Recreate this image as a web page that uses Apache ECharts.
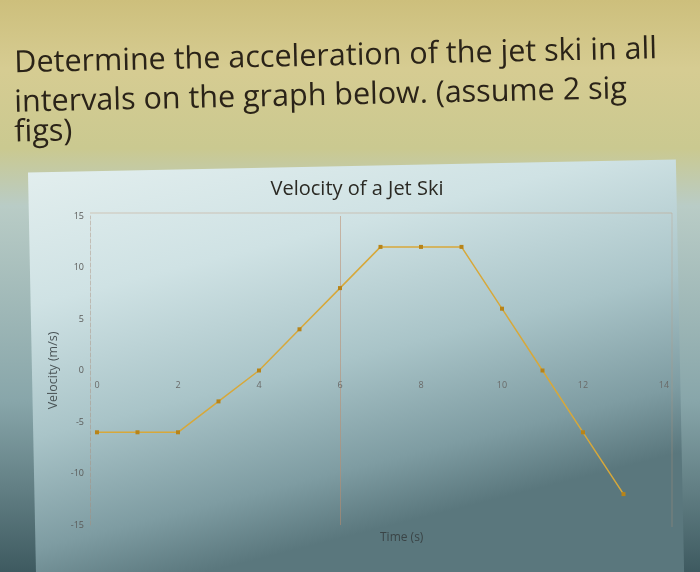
<!DOCTYPE html>
<html>
<head>
<meta charset="utf-8">
<style>
html,body{margin:0;padding:0;width:700px;height:572px;overflow:hidden;background:#c9c184;}
#c{width:700px;height:572px;}
</style>
<script src="https://cdn.jsdelivr.net/npm/echarts@6/dist/echarts.min.js"></script>
</head>
<body>
<div id="c"></div>
<script>
// Data
var timeSeconds = [0, 1, 2, 3, 4, 5, 6, 7, 8, 9, 10, 11, 12, 13];
var velocityMs = [-6, -6, -6, -3, 0, 4, 8, 12, 12, 12, 6, 0, -6, -12];
var questionLines = [
  'Determine the acceleration of the jet ski in all',
  'intervals on the graph below. (assume 2 sig',
  'figs)'
];
var chartTitle = 'Velocity of a Jet Ski';
var xAxisName = 'Time (s)';
var yAxisName = 'Velocity (m/s)';

var points = timeSeconds.map(function (t, i) { return [t, velocityMs[i]]; });

var chart = echarts.init(document.getElementById('c'), null, {renderer: 'canvas'});

var gridL = 97, gridT = 216, gridW = 567, gridH = 309;
var yMin = -15, yMax = 15;
// distance of the zero line from the bottom of the plot, so the x labels sit on y = 0
var zeroOffset = -gridH * (0 - yMin) / (yMax - yMin);
var qFont = '30.5px "Open Sans"';
var clear = 'rgba(0,0,0,0)';

var option = {
  backgroundColor: {
    type: 'linear', x: 0, y: 0, x2: 0, y2: 1,
    colorStops: [
      {offset: 0, color: '#cdbf7c'},
      {offset: 0.12, color: '#d6cc92'},
      {offset: 0.26, color: '#cac990'},
      {offset: 0.36, color: '#b9ccc6'},
      {offset: 0.7, color: '#88a6aa'},
      {offset: 1, color: '#3e5a60'}
    ]
  },
  animation: false,
  graphic: [
    {
      type: 'rect', z: -10,
      shape: {x: 32, y: 166, width: 648, height: 420},
      rotation: 0.02, originX: 356, originY: 370,
      style: {
        fill: {
          type: 'linear', x: 0, y: 0, x2: 0.15, y2: 1,
          colorStops: [
            {offset: 0, color: '#e2eeee'},
            {offset: 0.3, color: '#cfe2e4'},
            {offset: 0.6, color: '#a9c4c8'},
            {offset: 0.85, color: '#7e9ca2'},
            {offset: 1, color: '#5a777d'}
          ]
        }
      }
    },
    {
      type: 'text', left: 14, top: 34, rotation: 0.022,
      style: {text: questionLines[0], font: qFont, fill: '#2a2318'}
    },
    {
      type: 'text', left: 14, top: 74, rotation: 0.022,
      style: {text: questionLines[1], font: qFont, fill: '#2a2318'}
    },
    {
      type: 'text', left: 14, top: 116, rotation: 0.022,
      style: {text: questionLines[2], font: qFont, fill: '#2a2318'}
    },
    {
      type: 'text', left: 380, top: 532,
      style: {text: xAxisName, font: '12px "Open Sans"', fill: '#3a4446', align: 'center'}
    },
    {
      type: 'line', z: 1,
      shape: {x1: 90, y1: 213, x2: 672, y2: 213},
      style: {stroke: 'rgba(190,150,120,0.45)', lineWidth: 1}
    },
    {
      type: 'line', z: 1,
      shape: {x1: 672, y1: 213, x2: 672, y2: 527},
      style: {stroke: 'rgba(190,150,120,0.35)', lineWidth: 1}
    }
  ],
  title: {
    text: chartTitle,
    left: 352, top: 174, textAlign: 'center',
    textStyle: {fontFamily: 'Open Sans', fontSize: 20, fontWeight: 'normal', color: '#2b2a24'}
  },
  grid: {left: gridL, top: gridT, width: gridW, height: gridH, containLabel: false},
  xAxis: {
    type: 'value', min: 0, max: 14, interval: 2,
    position: 'bottom', offset: zeroOffset,
    axisLine: {show: false, onZero: false},
    axisTick: {show: false},
    axisLabel: {fontFamily: 'Open Sans', fontSize: 9, color: '#6a6a68', margin: 10},
    splitLine: {show: true, lineStyle: {color: [clear, clear, clear, 'rgba(190,140,110,0.55)', clear, clear, clear, clear], width: 1}}
  },
  yAxis: {
    type: 'value', min: yMin, max: yMax, interval: 5,
    name: yAxisName, nameLocation: 'middle', nameGap: 22, nameRotate: 90,
    nameTextStyle: {fontFamily: 'Open Sans', fontSize: 12.5, color: '#4a5456'},
    offset: 7,
    axisLine: {show: true, onZero: false, lineStyle: {color: 'rgba(170,140,120,0.45)', width: 1, type: 'dashed'}},
    axisTick: {show: false},
    axisLabel: {fontFamily: 'Open Sans', fontSize: 9, color: '#5a5a58', margin: 6},
    splitLine: {show: false}
  },
  series: [{
    type: 'line',
    data: points,
    symbol: 'rect', symbolSize: 4,
    itemStyle: {color: '#b88418'},
    lineStyle: {color: '#d7a83a', width: 1.5}
  }]
};
chart.setOption(option);
</script>
</body>
</html>
